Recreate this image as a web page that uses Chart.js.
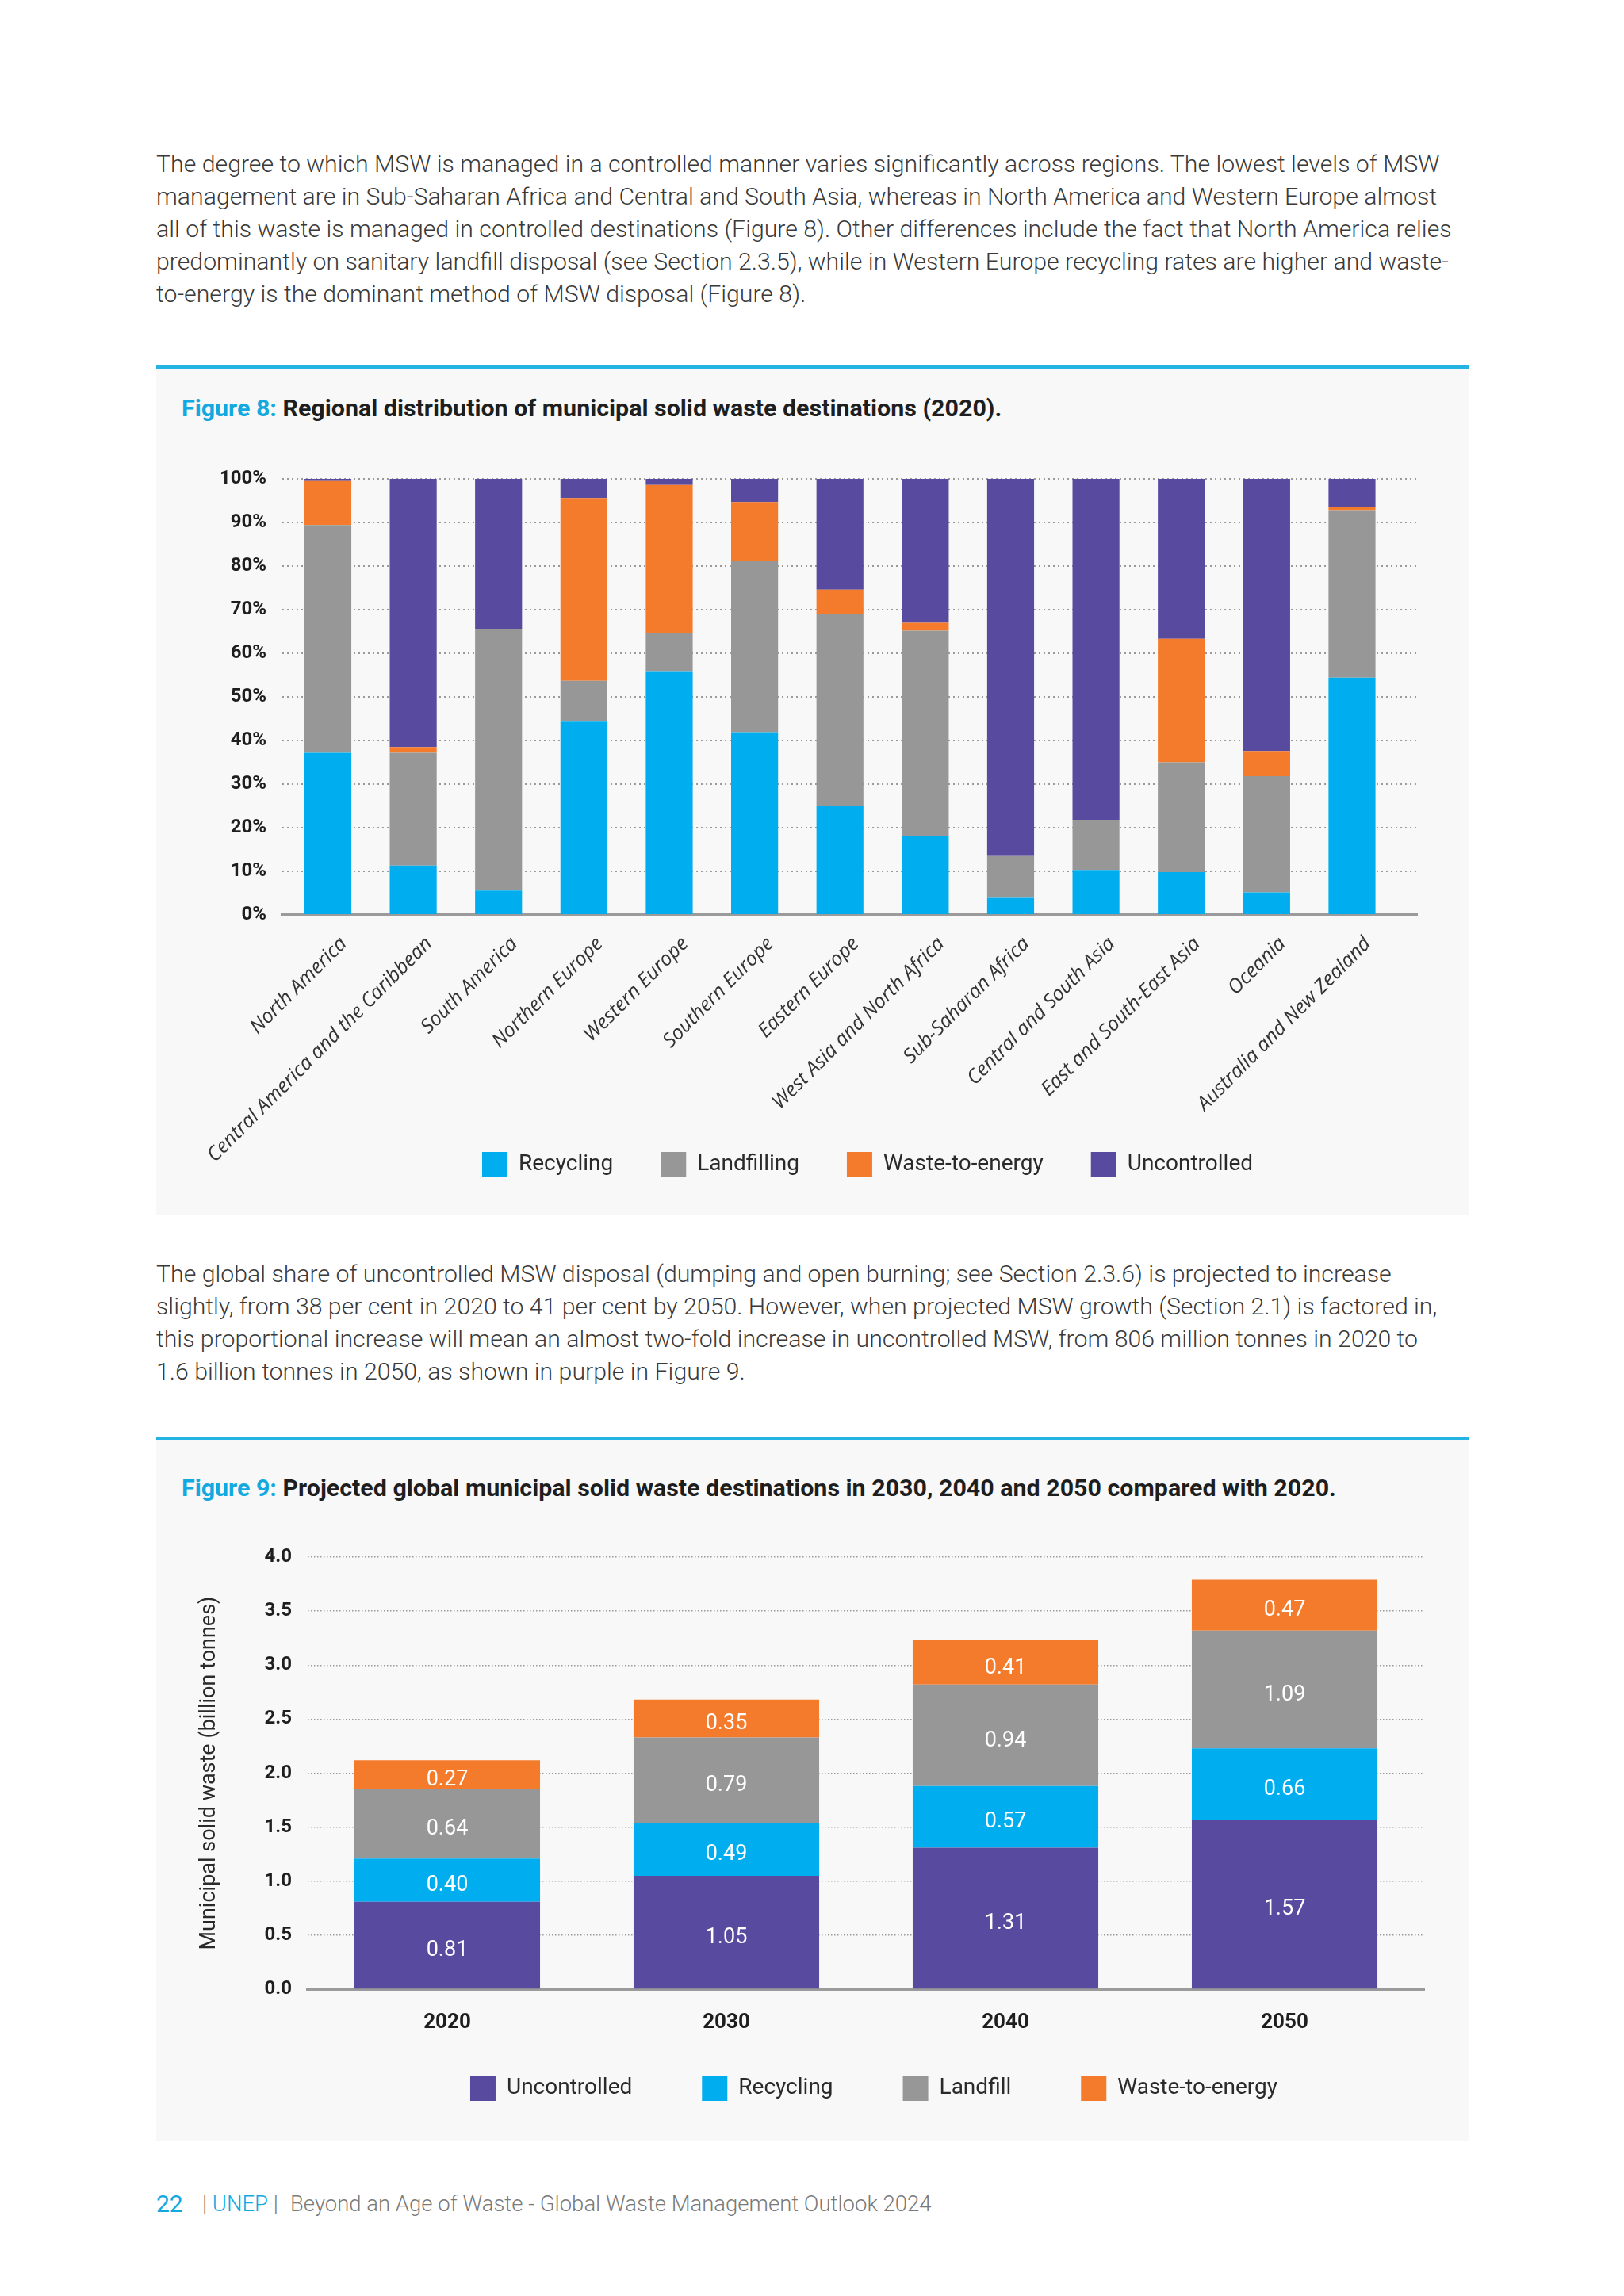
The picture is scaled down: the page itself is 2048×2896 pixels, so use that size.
<!DOCTYPE html>
<html><head><meta charset="utf-8">
<script src="https://cdn.jsdelivr.net/npm/chart.js@4.4.1/dist/chart.umd.min.js"></script>
<style>
html,body{margin:0;padding:0;background:#fff;}
body{width:2048px;height:2896px;position:relative;overflow:hidden;font-family:Roboto,sans-serif;}
.line{position:absolute;left:197px;white-space:nowrap;font-size:30.25px;font-weight:300;color:#3a3a3a;line-height:30px;height:30px;margin-top:-15px;}
.panel{position:absolute;left:197px;width:1656px;background:#f8f8f8;border-top:4px solid #25b3e4;}
.ftitle{position:absolute;left:229px;white-space:nowrap;font-size:30.4px;font-weight:700;color:#1e1e1e;line-height:30px;margin-top:-15px;}
.ftitle span{color:#12a9e1;}
.foot{position:absolute;top:2765px;white-space:nowrap;font-size:27.5px;font-weight:300;color:#7a7a7a;line-height:30px;}
.c{color:#12a9e1;}
canvas{position:absolute;}
</style></head>
<body>
<div class="line" style="top:207px">The degree to which MSW is managed in a controlled manner varies significantly across regions. The lowest levels of MSW</div>
<div class="line" style="top:248px">management are in Sub-Saharan Africa and Central and South Asia, whereas in North America and Western Europe almost</div>
<div class="line" style="top:289px">all of this waste is managed in controlled destinations (Figure 8). Other differences include the fact that North America relies</div>
<div class="line" style="top:330px">predominantly on sanitary landfill disposal (see Section 2.3.5), while in Western Europe recycling rates are higher and waste-</div>
<div class="line" style="top:371px">to-energy is the dominant method of MSW disposal (Figure 8).</div>

<div class="panel" style="top:461px;height:1067px"></div>
<div class="ftitle" style="top:515px"><span>Figure 8:</span> Regional distribution of municipal solid waste destinations (2020).</div>
<canvas id="c8" width="1794" height="1023" style="left:197px;top:564px;width:1794px;height:1023px"></canvas>

<div class="line" style="top:1607px">The global share of uncontrolled MSW disposal (dumping and open burning; see Section 2.3.6) is projected to increase</div>
<div class="line" style="top:1648px">slightly, from 38 per cent in 2020 to 41 per cent by 2050. However, when projected MSW growth (Section 2.1) is factored in,</div>
<div class="line" style="top:1689px">this proportional increase will mean an almost two-fold increase in uncontrolled MSW, from 806 million tonnes in 2020 to</div>
<div class="line" style="top:1730px">1.6 billion tonnes in 2050, as shown in purple in Figure 9.</div>

<div class="panel" style="top:1812px;height:885px"></div>
<div class="ftitle" style="top:1877px"><span>Figure 9:</span> Projected global municipal solid waste destinations in 2030, 2040 and 2050 compared with 2020.</div>
<canvas id="c9" width="1810" height="781" style="left:197px;top:1924px;width:1810px;height:781px"></canvas>

<div class="foot c" style="left:197px;font-weight:400;font-size:30px">22</div>
<div class="foot" style="left:255px">|&nbsp;<span class="c">UNEP</span>&nbsp;|</div>
<div class="foot" style="left:366px">Beyond an Age of Waste - Global Waste Management Outlook 2024</div>

<script>
// ---------- Figure 8 data ----------
const regions = ["North America","Central America and the Caribbean","South America","Northern Europe","Western Europe","Southern Europe","Eastern Europe","West Asia and North Africa","Sub-Saharan Africa","Central and South Asia","East and South-East Asia","Oceania","Australia and New Zealand"];
const recycling8    = [37.2, 11.3,  5.6, 44.3, 55.9, 41.9, 24.9, 18.1,  3.9, 10.3,  9.8,  5.2, 54.4];
const landfilling8  = [52.2, 25.9, 60.0,  9.4,  8.8, 39.3, 44.0, 47.1,  9.6, 11.5, 25.2, 26.6, 38.4];
const wte8          = [10.1,  1.3,  0.0, 41.9, 33.9, 13.5,  5.7,  1.8,  0.0,  0.0, 28.3,  5.8,  0.8];
const uncontrolled8 = [ 0.5, 61.5, 34.4,  4.4,  1.4,  5.3, 25.4, 33.0, 86.5, 78.2, 36.7, 62.4,  6.4];
const series8Names  = ["Recycling","Landfilling","Waste-to-energy","Uncontrolled"];

// ---------- Figure 9 data ----------
const years = ["2020","2030","2040","2050"];
const uncontrolled9 = [0.81, 1.05, 1.31, 1.57];
const recycling9    = [0.40, 0.49, 0.57, 0.66];
const landfill9     = [0.64, 0.79, 0.94, 1.09];
const wte9          = [0.27, 0.35, 0.41, 0.47];
const series9Names  = ["Uncontrolled","Recycling","Landfill","Waste-to-energy"];
const yAxisTitle9 = "Municipal solid waste (billion tonnes)";

const C_REC = '#00aeef', C_LAND = '#979797', C_WTE = '#f47b2c', C_UNC = '#574a9f';

Chart.defaults.font.family = 'Roboto';
Chart.defaults.color = '#222';

const toXY = arr => arr.map((v, i) => ({x: i, y: v}));

// moves the (bottom) legend up so it can sit beside the long rotated tick labels
const legendMover = topPx => ({
  id: 'legendMover',
  afterLayout(chart) {
    const lg = chart.legend;
    if (!lg) return;
    const h = lg.height;
    lg.top = topPx;
    lg.bottom = topPx + h;
  }
});

new Chart(document.getElementById('c8'), {
  type: 'bar',
  data: {
    datasets: [
      {label: series8Names[0], data: toXY(recycling8), backgroundColor: C_REC},
      {label: series8Names[1], data: toXY(landfilling8), backgroundColor: C_LAND},
      {label: series8Names[2], data: toXY(wte8), backgroundColor: C_WTE},
      {label: series8Names[3], data: toXY(uncontrolled8), backgroundColor: C_UNC}
    ]
  },
  plugins: [legendMover(829)],
  options: {
    responsive: false, animation: false, devicePixelRatio: 1,
    layout: {padding: {top: 40, left: 0, right: 0, bottom: 0}},
    datasets: {bar: {categoryPercentage: 1, barPercentage: 0.55, borderWidth: 0}},
    plugins: {
      tooltip: {enabled: false},
      legend: {
        position: 'bottom',
        labels: {boxWidth: 32, boxHeight: 32, padding: 60, color: '#2a2a2a', font: {size: 28, family: 'Roboto'}}
      }
    },
    scales: {
      x: {
        type: 'linear', stacked: true, min: -0.534, max: 12.762, bounds: 'data', offset: false,
        grid: {display: false, drawTicks: false, offset: false},
        border: {display: true, color: '#9b9b9b', width: 4},
        afterBuildTicks: s => { s.ticks = regions.map((_, i) => ({value: i})); },
        ticks: {
          autoSkip: false,
          maxRotation: 45, minRotation: 45, padding: 22, labelOffset: 20,
          color: '#333', font: {family: 'Open Sans', style: 'italic', size: 25},
          callback: v => (Number.isInteger(v) && regions[v] !== undefined) ? regions[v] : ''
        },
        afterFit: s => { s.height = 331; }
      },
      y: {
        stacked: true, min: 0, max: 100,
        grid: {drawTicks: false, lineWidth: 2, color: c => c.tick && c.tick.value === 0 ? 'rgba(0,0,0,0)' : '#9a9a9a'},
        border: {display: false, dash: [2, 4]},
        ticks: {stepSize: 10, padding: 20, color: '#1e1e1e', font: {size: 24, weight: 'bold'}, callback: v => v + '%'},
        afterFit: s => { s.width = 159; }
      },
      yR: {
        type: 'linear', position: 'right', display: true,
        grid: {display: false}, border: {display: false}, ticks: {display: false},
        afterFit: s => { s.width = 204; }
      }
    }
  }
});

const segLabels = {
  id: 'segLabels',
  afterDatasetsDraw(chart) {
    const ctx = chart.ctx;
    ctx.save();
    ctx.fillStyle = '#ffffff';
    ctx.font = '400 27px Roboto';
    ctx.textAlign = 'center';
    ctx.textBaseline = 'middle';
    chart.data.datasets.forEach((ds, i) => {
      const meta = chart.getDatasetMeta(i);
      meta.data.forEach((bar, j) => {
        const p = bar.getProps(['x', 'y', 'base'], true);
        ctx.fillText(Number(ds.data[j]).toFixed(2), p.x, (p.y + p.base) / 2 + 7);
      });
    });
    ctx.restore();
  }
};

new Chart(document.getElementById('c9'), {
  type: 'bar',
  data: {
    labels: years,
    datasets: [
      {label: series9Names[0], data: uncontrolled9, backgroundColor: C_UNC},
      {label: series9Names[1], data: recycling9, backgroundColor: C_REC},
      {label: series9Names[2], data: landfill9, backgroundColor: C_LAND},
      {label: series9Names[3], data: wte9, backgroundColor: C_WTE}
    ]
  },
  plugins: [segLabels, legendMover(606)],
  options: {
    responsive: false, animation: false, devicePixelRatio: 1,
    layout: {padding: {top: 40, left: 0, right: 0, bottom: 0}},
    datasets: {bar: {categoryPercentage: 1, barPercentage: 0.665, borderWidth: 0}},
    plugins: {
      tooltip: {enabled: false},
      legend: {
        position: 'bottom',
        labels: {boxWidth: 32, boxHeight: 32, padding: 88, color: '#2a2a2a', font: {size: 28, family: 'Roboto'}}
      }
    },
    scales: {
      x: {
        stacked: true,
        grid: {display: false, drawTicks: false},
        border: {display: true, color: '#9b9b9b', width: 4},
        ticks: {padding: 27, color: '#1e1e1e', font: {size: 26, weight: 'bold'}},
        afterFit: s => { s.height = 66; }
      },
      y: {
        stacked: true, min: 0, max: 4,
        grid: {drawTicks: false, lineWidth: 1.5, color: c => c.tick && c.tick.value === 0 ? 'rgba(0,0,0,0)' : '#9a9a9a'},
        border: {display: false, dash: [1.5, 2.5]},
        title: {display: true, text: yAxisTitle9, color: '#2a2a2a', font: {size: 27}, padding: {top: 51, bottom: 0}},
        ticks: {stepSize: 0.5, padding: 20, color: '#1e1e1e', font: {size: 24, weight: 'bold'}, callback: v => Number(v).toFixed(1)},
        afterFit: s => { s.width = 191; }
      },
      yR: {
        type: 'linear', position: 'right', display: true,
        grid: {display: false}, border: {display: false}, ticks: {display: false},
        afterFit: s => { s.width = 211; }
      }
    }
  }
});
</script>
</body></html>
